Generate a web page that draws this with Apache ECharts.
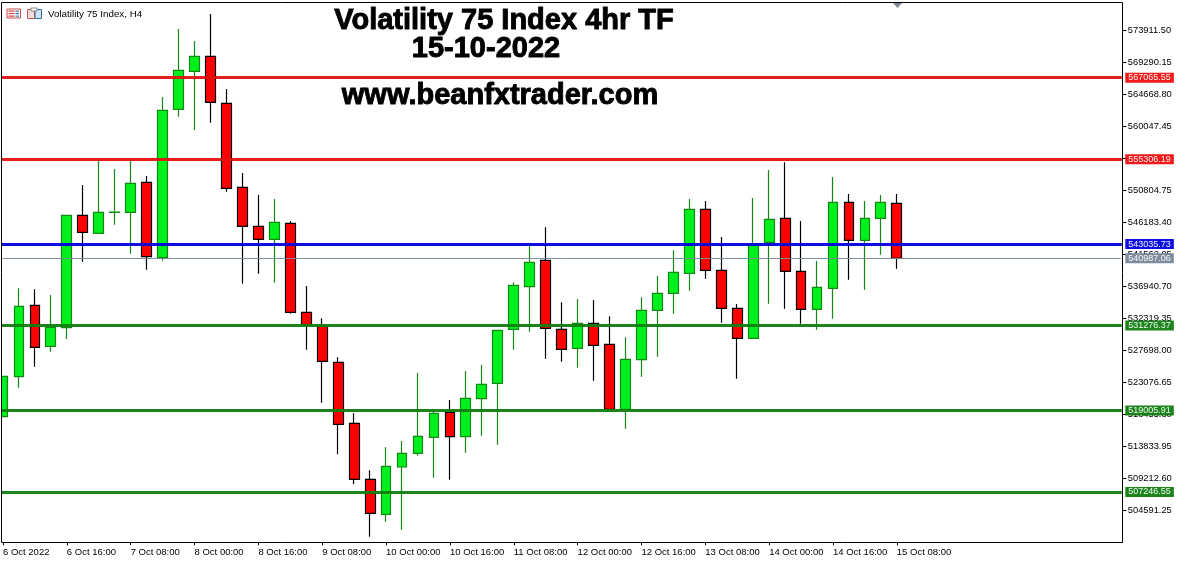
<!DOCTYPE html>
<html><head><meta charset="utf-8">
<style>html,body{margin:0;padding:0;background:#fff}#c{width:1185px;height:562px}</style>
<script src="https://cdn.jsdelivr.net/npm/echarts@6/dist/echarts.min.js"></script>
</head><body><div id="c"></div>
<script>
const opens=[518108,523885,534197,528275,530962,547194,544595,547627,547627,551960,541071,562502,567990,570156,563369,551238,545605,543728,546039,533185,531164,525965,517155,509068,504013,510844,512823,515133,518744,515220,520708,522932,530730,536883,540695,530730,527987,531597,528565,519177,526340,533474,535929,538818,548061,539251,533763,529431,543295,546761,539107,533619,536652,549071,543584,546761,548927];
const closes=[523943,534052,528131,531019,547194,544739,547627,547650,551815,541215,562358,568135,570156,563513,551093,545605,543728,546183,533185,531351,526109,517011,509068,504158,510945,512823,515278,518600,515220,520766,522787,530586,537085,540406,530875,527842,531597,528420,519177,526398,533474,535929,538962,548061,539251,533763,529431,542905,546616,539107,533619,536796,549071,543584,546761,549071,540987];
const lows=[518108,522297,525329,527496,529330,540493,544595,545836,541648,539338,540638,561434,559469,560567,550602,537316,538760,537460,532983,527784,520130,512678,508346,500778,502945,501789,512476,509297,509010,512909,515364,514065,527784,530384,526485,526051,525185,523307,519177,516375,523885,526773,532983,536305,538038,531684,523596,529431,534428,533705,531539,530673,532261,537893,536450,541504,539482];
const highs=[523943,536652,536507,535684,547194,551570,555079,553881,555079,552870,564279,574099,572366,576265,565434,553303,550126,549548,546371,536984,532319,526687,518600,510368,513689,514599,524419,518932,520520,524708,525575,530586,537518,542760,545461,534630,535106,534962,532608,529575,535352,538428,542139,549548,549259,544060,534384,549692,553736,554848,546371,540594,552725,550270,549259,550126,550270];
const tickLabels=["6 Oct 2022","6 Oct 16:00","7 Oct 08:00","8 Oct 00:00","8 Oct 16:00","9 Oct 08:00","10 Oct 00:00","10 Oct 16:00","11 Oct 08:00","12 Oct 00:00","12 Oct 16:00","13 Oct 08:00","14 Oct 00:00","14 Oct 16:00","15 Oct 08:00"];
const priceTicks=[573911.50,569290.15,564668.80,560047.45,555426.10,550804.75,546183.40,541562.05,536940.70,532319.35,527698.00,523076.65,518455.30,513833.95,509212.60,504591.25];
const levelValues=[567065.55,555306.19,543035.73,540987.06,531276.37,519005.91,507246.55];
const levelColors=["#e01212","#e01212","#0000e0","#778899","#0f7d0f","#0f7d0f","#0f7d0f"];
const levelWidths=[3,3,3,1,3,3,3];
const titleLines=["Volatility 75 Index 4hr TF","15-10-2022","www.beanfxtrader.com"];
const symbolLabel="Volatility 75 Index, H4";

const SLOTS=71;
const categories=Array.from({length:SLOTS},(_,i)=>i%4===0&&tickLabels[i/4]?tickLabels[i/4]:"");
const showTick=i=>i%4===0&&i/4<tickLabels.length;
const candles=opens.map((o,i)=>[o,closes[i],lows[i],highs[i]]);
const axisFont={fontFamily:"Liberation Sans",fontSize:9.5,color:"#000"};
const bigTitle={fontFamily:"Liberation Sans",fontWeight:"bold",color:"#000",fontSize:29,textBorderColor:"#000",textBorderWidth:0.9};

const chart=echarts.init(document.getElementById("c"),null,{renderer:"canvas"});
chart.setOption({
  animation:false,
  backgroundColor:"#fff",
  title:[
    {text:titleLines[0],left:499,top:1,textAlign:"center",textStyle:bigTitle},
    {text:titleLines[1],left:481,top:29,textAlign:"center",textStyle:bigTitle},
    {text:titleLines[2],left:495,top:76.5,textAlign:"center",textStyle:bigTitle},
    {text:symbolLabel,left:43,top:4,textStyle:{fontFamily:"Liberation Sans",fontSize:9.8,fontWeight:"normal",color:"#000"}}
  ],
  grid:{left:0.3,top:2.5,width:1120,height:539.8,containLabel:false},
  xAxis:{type:"category",data:categories,boundaryGap:false,
    axisLine:{show:false},
    axisTick:{show:true,length:3,interval:(i)=>showTick(i),lineStyle:{color:"#000"}},
    axisLabel:{show:true,interval:(i)=>showTick(i),align:"left",margin:5.5,...axisFont},
    splitLine:{show:false}},
  yAxis:{type:"value",position:"right",offset:2,min:499970,max:577926,scale:true,
    axisLine:{show:false},
    axisTick:{show:true,length:4,customValues:priceTicks,lineStyle:{color:"#000"}},
    axisLabel:{show:true,customValues:priceTicks,align:"left",margin:5.5,formatter:v=>v.toFixed(2),...axisFont,fontSize:9.3},
    splitLine:{show:false}},
  series:[{
    type:"candlestick",data:candles,barWidth:10.3,clip:true,
    itemStyle:{color:"#00f01e",color0:"#ff0000",borderColor:"#118a11",borderColor0:"#000",borderWidth:1.2},
    markLine:{silent:true,symbol:"none",animation:false,precision:2,
      data:levelValues.map((v,i)=>({yAxis:v,
        lineStyle:{color:levelColors[i],width:levelWidths[i],type:"solid",opacity:0.95,cap:"square"},
        label:{show:true,position:"end",distance:5,formatter:()=>v.toFixed(2),color:"#fff",
          fontFamily:"Liberation Sans",fontSize:9,backgroundColor:levelColors[i]==="#e01212"?"#f00d0d":levelColors[i],
          padding:[1,3,0,3],lineHeight:9}
      }))}
  }],
  graphic:[
    {type:"rect",silent:true,z:99,shape:{x:0,y:0,width:1.2,height:562},style:{fill:"#fff"}},
    {type:"rect",silent:true,z:100,shape:{x:1.5,y:2.5,width:1121,height:540},style:{fill:"none",stroke:"#000",lineWidth:1}},
    {type:"polygon",silent:true,z:100,shape:{points:[[893,3],[902,3],[897.5,8]]},style:{fill:"#7d8a96"}},
    {type:"rect",silent:true,z:100,shape:{x:7,y:9,width:13.5,height:9},style:{fill:"#fff",stroke:"#c84b4b",lineWidth:1}},
    {type:"rect",silent:true,z:100,shape:{x:8.5,y:10.5,width:6,height:1.2},style:{fill:"#d04040"}},
    {type:"rect",silent:true,z:100,shape:{x:8.5,y:13,width:6,height:1.2},style:{fill:"#d04040"}},
    {type:"rect",silent:true,z:100,shape:{x:8.5,y:15.5,width:6,height:1.2},style:{fill:"#d04040"}},
    {type:"rect",silent:true,z:100,shape:{x:15.5,y:10.5,width:3.5,height:1.2},style:{fill:"#3a70b0"}},
    {type:"rect",silent:true,z:100,shape:{x:15.5,y:13,width:3.5,height:1.2},style:{fill:"#3a70b0"}},
    {type:"rect",silent:true,z:100,shape:{x:15.5,y:15.5,width:3.5,height:1.2},style:{fill:"#3a70b0"}},
    {type:"rect",silent:true,z:100,shape:{x:27.5,y:9.5,width:7,height:9},style:{fill:"#f6dcd8",stroke:"#c05a50",lineWidth:1}},
    {type:"rect",silent:true,z:100,shape:{x:35,y:9.5,width:6.5,height:9},style:{fill:"#cfe3f6",stroke:"#2f6fa8",lineWidth:1}},
    {type:"rect",silent:true,z:100,shape:{x:31,y:8,width:6,height:3},style:{fill:"#fff",stroke:"#8a8a8a",lineWidth:1}}
  ]
});
</script></body></html>
